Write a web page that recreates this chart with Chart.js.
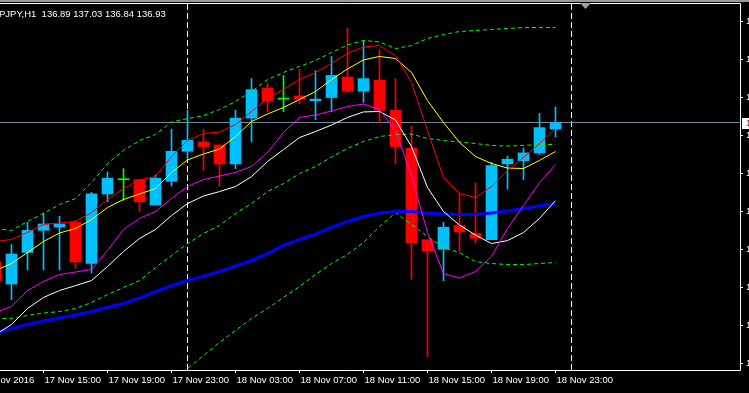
<!DOCTYPE html>
<html>
<head>
<meta charset="utf-8">
<script src="https://cdn.jsdelivr.net/npm/chart.js@4.4.1/dist/chart.umd.min.js"></script>
<style>
  html, body { margin: 0; padding: 0; background: #000; overflow: hidden; width: 749px; height: 393px; }
  #wrap { position: absolute; left: -40px; top: 0; width: 840px; height: 393px; }
</style>
</head>
<body>
<div id="wrap"><canvas id="c" width="840" height="393" style="width:840px;height:393px"></canvas></div>
<script>
// GBPJPY H1, bars from 17 Nov 12:00 (index -1) to 18 Nov 23:00 (index 34)
var symbol = 'GBPJPY,H1';
var firstBar = -1;
var open  = [136.05,135.91,136.11,136.25,136.27,136.30,136.04,136.48,136.57,136.57,136.41,136.56,136.75,136.81,136.79,136.67,136.96,137.15,137.08,137.10,137.07,137.09,137.22,137.13,137.20,137.01,136.77,136.19,136.13,136.28,136.23,136.19,136.67,136.69,136.74,136.89];
var high  = [136.07,136.16,136.30,136.36,136.34,136.31,136.49,136.62,136.64,136.57,136.60,136.89,137.01,136.89,136.79,137.01,137.21,137.18,137.23,137.27,137.26,137.35,137.53,137.45,137.39,137.21,136.91,136.19,136.30,136.48,136.55,136.68,136.72,136.77,136.99,137.03];
var low   = [135.90,135.81,136.00,136.00,136.00,136.01,135.98,136.43,136.44,136.37,136.41,136.53,136.70,136.63,136.53,136.64,136.81,137.00,137.00,137.05,136.95,137.00,137.12,137.06,136.93,136.67,135.94,135.45,135.93,136.12,136.17,136.19,136.51,136.57,136.73,136.84];
var close = [135.93,136.10,136.25,136.29,136.29,136.05,136.48,136.58,136.57,136.43,136.58,136.75,136.82,136.78,136.67,136.96,137.14,137.07,137.08,137.08,137.08,137.23,137.13,137.21,137.01,136.78,136.17,136.12,136.27,136.24,136.20,136.66,136.70,136.74,136.90,136.93];

var maRed     = [136.179,136.192,136.236,136.287,136.296,136.306,136.362,136.445,136.514,136.568,136.590,136.717,136.818,136.862,136.872,136.919,137.002,137.084,137.141,137.204,137.249,137.306,137.369,137.410,137.419,137.356,137.185,136.881,136.584,136.483,136.457,136.527,136.628,136.711,136.799,136.894];
var maYellow  = [135.995,136.040,136.109,136.179,136.233,136.261,136.318,136.394,136.445,136.480,136.514,136.616,136.695,136.733,136.764,136.843,136.938,136.986,137.027,137.078,137.128,137.204,137.271,137.328,137.350,137.337,137.249,137.071,136.932,136.806,136.717,136.673,136.644,136.641,136.692,136.749];
var maMagenta = [135.730,135.768,135.869,135.926,135.970,135.986,136.002,136.122,136.255,136.325,136.369,136.451,136.527,136.571,136.593,136.616,136.654,136.742,136.869,136.964,136.980,137.005,137.033,137.049,137.014,136.881,136.597,136.236,135.976,135.948,135.989,136.084,136.261,136.407,136.552,136.666];
var maWhite   = [135.590,135.654,135.755,135.825,135.869,135.900,135.932,136.021,136.116,136.198,136.255,136.343,136.419,136.467,136.495,136.527,136.590,136.685,136.761,136.837,136.875,136.916,136.964,136.999,137.002,136.948,136.780,136.521,136.369,136.283,136.220,136.166,136.185,136.236,136.325,136.438];
var maBlue    = [135.603,135.628,135.654,135.676,135.695,135.714,135.736,135.761,135.787,135.821,135.862,135.900,135.932,135.960,135.989,136.024,136.059,136.103,136.154,136.192,136.226,136.268,136.306,136.337,136.359,136.369,136.369,136.359,136.353,136.350,136.350,136.359,136.372,136.388,136.404,136.419];
var bandUpper  = [136.261,136.249,136.306,136.356,136.413,136.451,136.552,136.673,136.755,136.818,136.856,136.935,136.957,136.976,137.014,137.065,137.128,137.204,137.249,137.287,137.325,137.375,137.423,137.451,137.442,137.400,137.419,137.464,137.489,137.508,137.514,137.521,137.527,137.533,137.533,137.533];
var bandMiddle = [135.692,135.692,135.711,135.726,135.736,135.755,135.793,135.843,135.888,135.932,136.014,136.090,136.166,136.230,136.280,136.356,136.419,136.495,136.546,136.609,136.654,136.714,136.768,136.812,136.843,136.856,136.859,136.831,136.818,136.809,136.799,136.787,136.783,136.787,136.793,136.793];
var bandLower  = [null,null,null,null,null,null,null,null,null,null,135.211,135.293,135.375,135.457,135.540,135.616,135.692,135.755,135.825,135.894,135.970,136.040,136.097,136.173,136.274,136.362,136.287,136.211,136.141,136.109,136.052,136.040,136.033,136.033,136.040,136.046];

var xTickIndex  = [-2, 2, 6, 10, 14, 18, 22, 26, 30, 34];
var xTickLabels = ['17 Nov 2016','17 Nov 15:00','17 Nov 19:00','17 Nov 23:00','18 Nov 03:00','18 Nov 07:00','18 Nov 11:00','18 Nov 15:00','18 Nov 19:00','18 Nov 23:00'];
var daySeparators = [11, 35];
var yTickValues = [137.57,137.33,137.09,136.85,136.61,136.37,136.13,135.89,135.65,135.41];
var yMin = 135.366, yMax = 137.682;
var xMin = -3.21875, xMax = 45.53125;

var SHIFT = 40;   // canvas starts 40px left of the window
var FONT = '"Liberation Sans", Arial, sans-serif';
var FONT_SIZE = 9.5;
var bull = '#00bfff', bear = '#ff0000', doji = '#00ff00';

function pts(arr) {
  var out = [];
  for (var i = 0; i < arr.length; i++) out.push({x: i + firstBar, y: arr[i]});
  return out;
}
var bodies = [], wicks = [], colors = [];
for (var i = 0; i < open.length; i++) {
  bodies.push({x: i + firstBar, y: [open[i], close[i]]});
  wicks.push({x: i + firstBar, y: [low[i], high[i]]});
  colors.push(close[i] > open[i] ? bull : (close[i] < open[i] ? bear : doji));
}

function lineSet(data, color, width, dash, order) {
  return { type: 'line', data: pts(data), borderColor: color, borderWidth: width, borderDash: dash || [],
           pointRadius: 0, tension: 0, spanGaps: false, order: order };
}

function noPadding(s) {
  s.paddingTop = 0; s.paddingBottom = 0; s.paddingLeft = 0; s.paddingRight = 0;
}

var overlay = {
  id: 'overlay',
  beforeDatasetsDraw: function(chart) {
    var c = chart.ctx, a = chart.chartArea, xs = chart.scales.x, ys = chart.scales.y;
    c.save();
    c.lineWidth = 1;
    c.strokeStyle = '#ffffff';
    c.setLineDash([6, 3]);
    daySeparators.forEach(function(k) {
      var px = Math.floor(xs.getPixelForValue(k)) + 0.5;
      c.beginPath(); c.moveTo(px, a.top); c.lineTo(px, a.bottom); c.stroke();
    });
    c.setLineDash([]);
    c.strokeStyle = '#778899';
    var by = Math.floor(ys.getPixelForValue(close[close.length - 1])) + 0.5;
    c.beginPath(); c.moveTo(a.left, by); c.lineTo(a.right, by); c.stroke();
    c.restore();
  },
  afterDraw: function(chart) {
    var c = chart.ctx, a = chart.chartArea, ys = chart.scales.y;
    c.save();
    // window edge
    c.fillStyle = '#9a9a9a';
    c.fillRect(0, 0, chart.width, 2);
    // frame
    c.strokeStyle = '#ffffff';
    c.lineWidth = 1;
    c.beginPath();
    c.moveTo(a.left - 1, a.top - 0.5); c.lineTo(a.right + 0.5, a.top - 0.5);
    c.lineTo(a.right + 0.5, a.bottom + 0.5); c.lineTo(a.left - 1, a.bottom + 0.5);
    c.stroke();
    // chart shift marker
    c.fillStyle = '#a0a0a0';
    c.beginPath(); c.moveTo(SHIFT + 580, 3); c.lineTo(SHIFT + 591, 3); c.lineTo(SHIFT + 585.5, 9); c.closePath(); c.fill();
    // title
    var n = close.length - 1;
    c.font = FONT_SIZE + 'px ' + FONT;
    c.fillStyle = '#ffffff';
    c.textBaseline = 'alphabetic';
    var title = symbol + '  ' + open[n].toFixed(2) + ' ' + high[n].toFixed(2) + ' ' + low[n].toFixed(2) + ' ' + close[n].toFixed(2);
    c.fillText(title, SHIFT - c.measureText('GB').width - 1, 17);
    // bid price label
    var by = Math.floor(ys.getPixelForValue(close[n]));
    c.fillStyle = '#ffffff';
    c.fillRect(a.right + 2, by - 4, 60, 11);
    c.fillStyle = '#a00000';
    c.textBaseline = 'middle';
    c.fillText(close[n].toFixed(2), a.right + 6, by + 1.5);
    c.restore();
  }
};

new Chart(document.getElementById('c'), {
  type: 'bar',
  data: {
    datasets: [
      lineSet(maRed, '#ff0000', 1, null, 1),
      lineSet(maYellow, '#ffff00', 1, null, 2),
      lineSet(maMagenta, '#ff00ff', 1, null, 3),
      lineSet(maWhite, '#ffffff', 1, null, 4),
      lineSet(maBlue, '#0000ff', 3, null, 5),
      lineSet(bandUpper, '#00ff00', 1, [4, 3], 6),
      lineSet(bandMiddle, '#00ff00', 1, [4, 3], 7),
      lineSet(bandLower, '#00ff00', 1, [4, 3], 8),
      { type: 'bar', data: bodies, backgroundColor: colors, borderWidth: 0, barThickness: 11, minBarLength: 1, grouped: false, order: 10 },
      { type: 'bar', data: wicks, backgroundColor: colors, borderWidth: 0, barThickness: 1, grouped: false, order: 11 }
    ]
  },
  options: {
    responsive: false,
    animation: false,
    layout: { padding: { top: 4, left: 0, right: 0, bottom: 0 } },
    plugins: { legend: { display: false }, tooltip: { enabled: false } },
    scales: {
      x: {
        type: 'linear', min: xMin, max: xMax, offset: false,
        afterBuildTicks: function(s) { s.ticks = xTickIndex.map(function(v) { return {value: v}; }); },
        afterFit: function(s) { s.height = 23; noPadding(s); },
        grid: { drawOnChartArea: false, drawTicks: true, tickLength: 3, color: '#ffffff', offset: false },
        border: { display: false },
        ticks: { color: '#ffffff', font: { family: FONT, size: FONT_SIZE }, autoSkip: false, maxRotation: 0, minRotation: 0,
                 align: 'start', padding: 2, labelOffset: 1,
                 callback: function(v, i) { return xTickLabels[i]; } }
      },
      y: {
        position: 'right', min: yMin, max: yMax,
        afterBuildTicks: function(s) { s.ticks = yTickValues.map(function(v) { return {value: v}; }); },
        afterFit: function(s) { s.width = 60; noPadding(s); },
        grid: { drawOnChartArea: false, drawTicks: true, tickLength: 3, color: '#ffffff' },
        border: { display: false },
        ticks: { color: '#ffffff', font: { family: FONT, size: FONT_SIZE }, padding: 3,
                 callback: function(v) { return Number(v).toFixed(2); } }
      }
    }
  },
  plugins: [overlay]
});
</script>
</body>
</html>
